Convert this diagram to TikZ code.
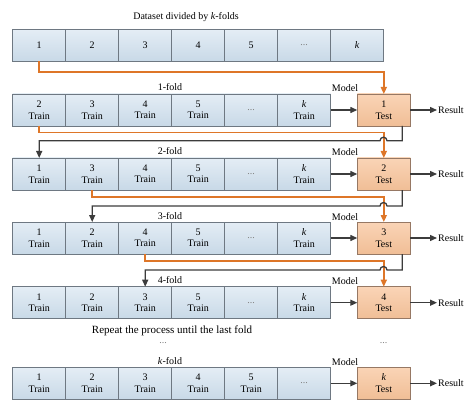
\documentclass[tikz,border=0pt]{standalone}
\usepackage{fontspec}
\setmainfont{Liberation Serif}
\usetikzlibrary{arrows.meta}
\definecolor{cellTop}{RGB}{228,237,245}
\definecolor{cellBot}{RGB}{200,217,231}
\definecolor{cellLine}{RGB}{110,120,130}
\definecolor{testTop}{RGB}{250,212,182}
\definecolor{testBot}{RGB}{240,190,150}
\definecolor{testLine}{RGB}{150,120,100}
\definecolor{orangeLine}{RGB}{222,118,40}
\definecolor{darkLine}{RGB}{60,60,60}
\tikzset{
  txt/.style={font=\fontsize{10}{11.5}\selectfont, inner sep=0pt},
  cellbox/.style={txt, draw=cellLine, line width=0.7pt, top color=cellTop, bottom color=cellBot,
    minimum width=53pt, minimum height=32pt, anchor=north west, align=center, outer sep=0pt},
  testbox/.style={txt, draw=testLine, line width=0.7pt, top color=testTop, bottom color=testBot,
    minimum width=53pt, minimum height=32pt, anchor=north west, align=center, outer sep=0pt},
  orangearrow/.style={draw=orangeLine, line width=1.7pt, -{Triangle[length=7pt,width=6pt]}},
  darkarrow/.style={draw=darkLine, line width=1.3pt, -{Triangle[length=7pt,width=6pt]}},
  foldlabel/.style={txt, anchor=base},
  modellabel/.style={txt, anchor=base},
  resultlabel/.style={txt, anchor=west},
}
\begin{document}
\begin{tikzpicture}[x=1pt,y=-1pt]
\useasboundingbox[fill=white] (0,0) rectangle (474,409);

% title and dataset row
\node[txt] (title) at (186,17) {Dataset divided by \textit{k}-folds};
\node[cellbox] (d1) at (12.7,29.5) {1};
\node[cellbox] (d2) at (65.7,29.5) {2};
\node[cellbox] (d3) at (118.7,29.5) {3};
\node[cellbox] (d4) at (171.7,29.5) {4};
\node[cellbox] (d5) at (224.7,29.5) {5};
\node[cellbox] (d6) at (277.7,29.5) {\textcolor{gray}{...}};
\node[cellbox] (d7) at (330.7,29.5) {\textit{k}};

% row 1
\def\rowA{94}
\node[foldlabel] (f1) at (170,91) {1-fold};
\node[cellbox] (a1) at (12.7,\rowA) {2\\Train};
\node[cellbox] (a2) at (65.7,\rowA) {3\\Train};
\node[cellbox] (a3) at (118.7,\rowA) {4\\Train};
\node[cellbox] (a4) at (171.7,\rowA) {5\\Train};
\node[cellbox] (a5) at (224.7,\rowA) {\textcolor{gray}{...}};
\node[cellbox] (a6) at (277.7,\rowA) {\textit{k}\\Train};
\node[testbox] (ta) at (357.3,\rowA) {1\\Test};
\node[modellabel] (ma) at (345,92) {Model};
\node[resultlabel] (ra) at (438,110) {Result};

% row 2
\def\rowB{158}
\node[foldlabel] (f2) at (170,155) {2-fold};
\node[cellbox] (b1) at (12.7,\rowB) {1\\Train};
\node[cellbox] (b2) at (65.7,\rowB) {3\\Train};
\node[cellbox] (b3) at (118.7,\rowB) {4\\Train};
\node[cellbox] (b4) at (171.7,\rowB) {5\\Train};
\node[cellbox] (b5) at (224.7,\rowB) {\textcolor{gray}{...}};
\node[cellbox] (b6) at (277.7,\rowB) {\textit{k}\\Train};
\node[testbox] (tb) at (357.3,\rowB) {2\\Test};
\node[modellabel] (mb) at (345,156) {Model};
\node[resultlabel] (rb) at (438,174) {Result};

% row 3
\def\rowC{222}
\node[foldlabel] (f3) at (170,219) {3-fold};
\node[cellbox] (c1) at (12.7,\rowC) {1\\Train};
\node[cellbox] (c2) at (65.7,\rowC) {2\\Train};
\node[cellbox] (c3) at (118.7,\rowC) {4\\Train};
\node[cellbox] (c4) at (171.7,\rowC) {5\\Train};
\node[cellbox] (c5) at (224.7,\rowC) {\textcolor{gray}{...}};
\node[cellbox] (c6) at (277.7,\rowC) {\textit{k}\\Train};
\node[testbox] (tc) at (357.3,\rowC) {3\\Test};
\node[modellabel] (mc) at (345,220) {Model};
\node[resultlabel] (rc) at (438,238) {Result};

% row 4
\def\rowD{286.7}
\node[foldlabel] (f4) at (170,283.5) {4-fold};
\node[cellbox] (e1) at (12.7,\rowD) {1\\Train};
\node[cellbox] (e2) at (65.7,\rowD) {2\\Train};
\node[cellbox] (e3) at (118.7,\rowD) {3\\Train};
\node[cellbox] (e4) at (171.7,\rowD) {5\\Train};
\node[cellbox] (e5) at (224.7,\rowD) {\textcolor{gray}{...}};
\node[cellbox] (e6) at (277.7,\rowD) {\textit{k}\\Train};
\node[testbox] (te) at (357.3,\rowD) {4\\Test};
\node[modellabel] (me) at (345,284.5) {Model};
\node[resultlabel] (re) at (438,302.7) {Result};

% repeat text
\node[txt, font=\fontsize{11}{13}\selectfont] (rep) at (172,331) {Repeat the process until the last fold};
\node[txt, text=gray] (dl) at (163,343) {...};
\node[txt, text=gray] (dr) at (383.5,343) {...};

% k-fold row
\def\rowK{367.3}
\node[foldlabel] (fk) at (170,364) {\textit{k}-fold};
\node[cellbox] (k1) at (12.7,\rowK) {1\\Train};
\node[cellbox] (k2) at (65.7,\rowK) {2\\Train};
\node[cellbox] (k3) at (118.7,\rowK) {3\\Train};
\node[cellbox] (k4) at (171.7,\rowK) {4\\Train};
\node[cellbox] (k5) at (224.7,\rowK) {5\\Train};
\node[cellbox] (k6) at (277.7,\rowK) {\textcolor{gray}{...}};
\node[testbox] (tk) at (357.3,\rowK) {\textit{k}\\Test};
\node[modellabel] (mk) at (345,365) {Model};
\node[resultlabel] (rk) at (438,383.3) {Result};

% model and result arrows
\foreach \r/\t/\s in {a6/ta/ra, b6/tb/rb, c6/tc/rc, e6/te/re, k6/tk/rk}{
  \draw[darkarrow] (\r.east) -- (\t.west);
  \draw[darkarrow] (\t.east) -- ([xshift=-1pt]\s.west);
}

% orange test-fold arrows
\draw[orangearrow] (d1.south) -- ++(0,10.8) -| (ta.north);
\draw[orangearrow] (a1.south) -- ++(0,6.5) -| (tb.north);
\draw[orangearrow] (b2.south) -- ++(0,6.7) -| (tc.north);
\draw[orangearrow] (c3.south) -- ++(0,7) -| (te.north);

% dark next-fold arrows with hop over the orange line
\draw[darkarrow] ([xshift=18.5pt]ta.south) -- ++(0,14.7) -- (387,140.7) arc[start angle=0,end angle=180,radius=3.5pt] -| (b1.north);
\draw[darkarrow] ([xshift=18.5pt]tb.south) -- ++(0,16) -- (387,206) arc[start angle=0,end angle=180,radius=3.5pt] -| (c2.north);
\draw[darkarrow] ([xshift=18.5pt]tc.south) -- ++(0,16) -- (387,270) arc[start angle=0,end angle=180,radius=3.5pt] -| (e3.north);
\end{tikzpicture}
\end{document}
